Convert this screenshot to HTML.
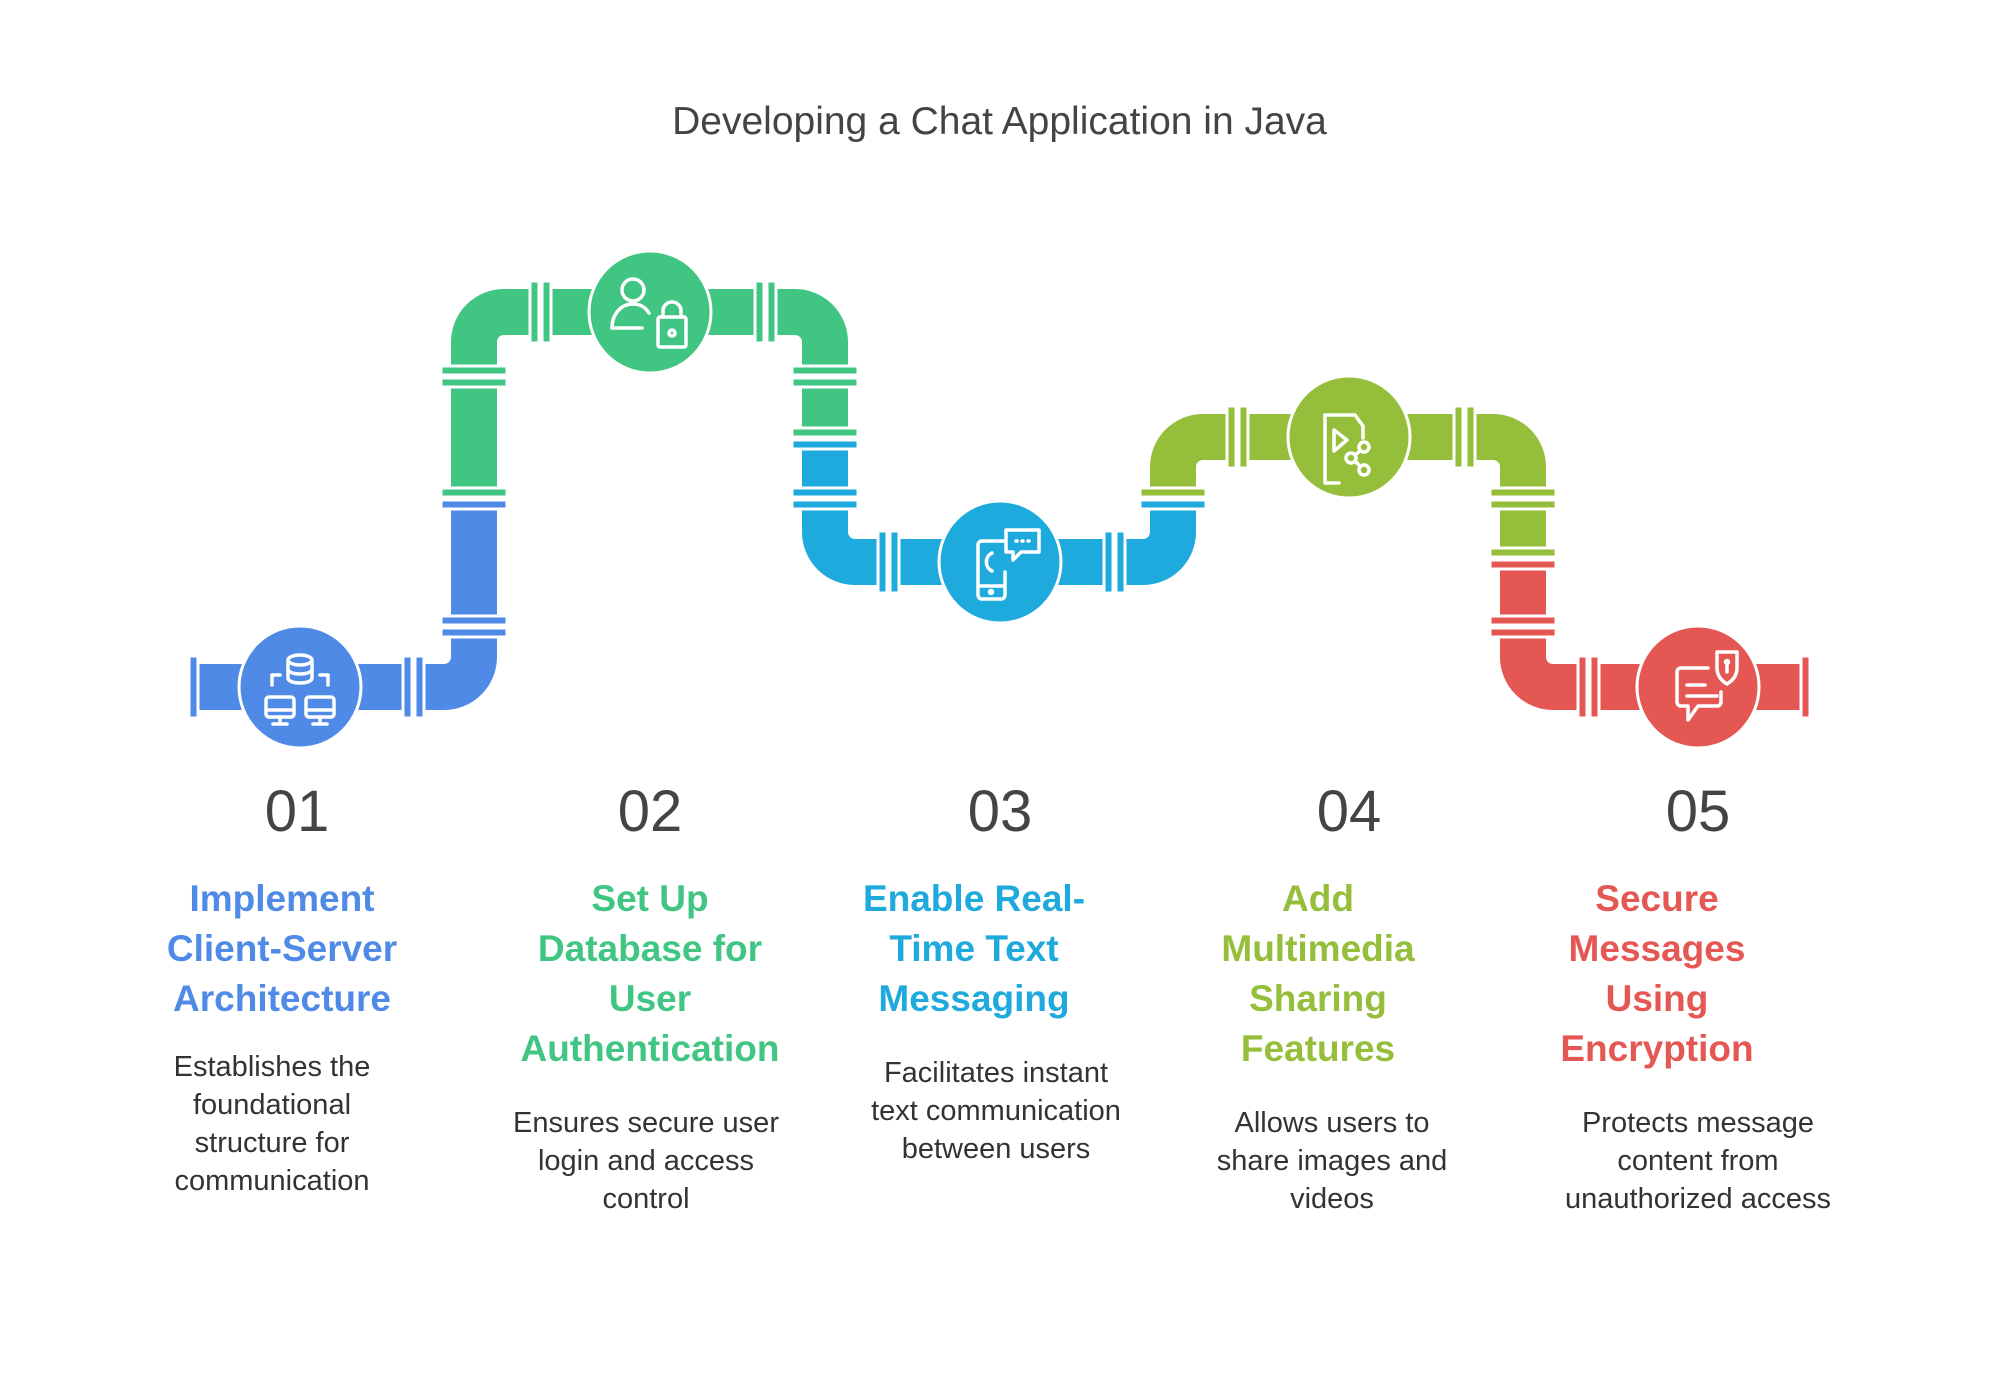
<!DOCTYPE html>
<html><head><meta charset="utf-8"><style>
body{margin:0;width:1999px;height:1375px;background:#fff;position:relative;overflow:hidden;font-family:"Liberation Sans",sans-serif}
.t{position:absolute;left:0;width:1999px;top:100px;text-align:center;font-size:39px;color:#444}
.n{position:absolute;width:300px;text-align:center;font-size:58px;color:#444;font-weight:300;top:778px}
.h{position:absolute;width:300px;text-align:center;font-size:37px;font-weight:bold;line-height:50px;white-space:nowrap}
.d{position:absolute;width:360px;text-align:center;font-size:29px;line-height:38px;color:#333;white-space:nowrap}
</style></head><body>
<div class="t">Developing a Chat Application in Java</div>
<svg width="1999" height="1375" style="position:absolute;left:0;top:0" fill="none">
<g stroke-width="46" stroke-linejoin="round">
<path d="M191 687 H444 A30 30 0 0 0 474 657 V497" stroke="#4F8AE6"/>
<path d="M474 497 V342 A30 30 0 0 1 504 312 H795 A30 30 0 0 1 825 342 V437" stroke="#40C583"/>
<path d="M825 437 V532 A30 30 0 0 0 855 562 H1143 A30 30 0 0 0 1173 532 V497" stroke="#1EAADC"/>
<path d="M1173 497 V467 A30 30 0 0 1 1203 437 H1493 A30 30 0 0 1 1523 467 V557" stroke="#95BE3A"/>
<path d="M1523 557 V657 A30 30 0 0 0 1553 687 H1808" stroke="#E55753"/>
</g>
<g stroke="#fff" stroke-width="3">
<rect x="441" y="366" width="66" height="9" fill="#40C583"/><rect x="441" y="378" width="66" height="9" fill="#40C583"/>
<rect x="441" y="488" width="66" height="9" fill="#40C583"/><rect x="441" y="500" width="66" height="9" fill="#4F8AE6"/>
<rect x="441" y="616" width="66" height="9" fill="#4F8AE6"/><rect x="441" y="628" width="66" height="9" fill="#4F8AE6"/>
<rect x="792" y="366" width="66" height="9" fill="#40C583"/><rect x="792" y="378" width="66" height="9" fill="#40C583"/>
<rect x="792" y="428" width="66" height="9" fill="#40C583"/><rect x="792" y="440" width="66" height="9" fill="#1EAADC"/>
<rect x="792" y="488" width="66" height="9" fill="#1EAADC"/><rect x="792" y="500" width="66" height="9" fill="#1EAADC"/>
<rect x="1140" y="488" width="66" height="9" fill="#95BE3A"/><rect x="1140" y="500" width="66" height="9" fill="#1EAADC"/>
<rect x="1490" y="488" width="66" height="9" fill="#95BE3A"/><rect x="1490" y="500" width="66" height="9" fill="#95BE3A"/>
<rect x="1490" y="548" width="66" height="9" fill="#95BE3A"/><rect x="1490" y="560" width="66" height="9" fill="#E55753"/>
<rect x="1490" y="616" width="66" height="9" fill="#E55753"/><rect x="1490" y="628" width="66" height="9" fill="#E55753"/>
<rect x="189" y="656" width="9" height="62" fill="#4F8AE6"/>
<rect x="403" y="656" width="9" height="62" fill="#4F8AE6"/><rect x="415" y="656" width="9" height="62" fill="#4F8AE6"/>
<rect x="530" y="281" width="9" height="62" fill="#40C583"/><rect x="542" y="281" width="9" height="62" fill="#40C583"/>
<rect x="755" y="281" width="9" height="62" fill="#40C583"/><rect x="767" y="281" width="9" height="62" fill="#40C583"/>
<rect x="878" y="531" width="9" height="62" fill="#1EAADC"/><rect x="890" y="531" width="9" height="62" fill="#1EAADC"/>
<rect x="1104" y="531" width="9" height="62" fill="#1EAADC"/><rect x="1116" y="531" width="9" height="62" fill="#1EAADC"/>
<rect x="1227" y="406" width="9" height="62" fill="#95BE3A"/><rect x="1239" y="406" width="9" height="62" fill="#95BE3A"/>
<rect x="1454" y="406" width="9" height="62" fill="#95BE3A"/><rect x="1466" y="406" width="9" height="62" fill="#95BE3A"/>
<rect x="1578" y="656" width="9" height="62" fill="#E55753"/><rect x="1590" y="656" width="9" height="62" fill="#E55753"/>
<rect x="1801" y="656" width="9" height="62" fill="#E55753"/>
<circle cx="300" cy="687" r="61" fill="#4F8AE6"/>
<circle cx="650" cy="312" r="61" fill="#40C583"/>
<circle cx="1000" cy="562" r="61" fill="#1EAADC"/>
<circle cx="1349" cy="437" r="61" fill="#95BE3A"/>
<circle cx="1698" cy="687" r="61" fill="#E55753"/>
</g>
<g stroke="#fff" stroke-width="3.5" stroke-linecap="round" stroke-linejoin="round">
<ellipse cx="300" cy="660" rx="12" ry="5"/><path d="M288 660v18c0 3 5 5 12 5s12-2 12-5v-18M288 669c0 3 5 5 12 5s12-2 12-5"/>
<path d="M272 685v-10h8M328 685v-10h-8"/>
<rect x="266" y="697" width="28" height="20" rx="3"/><rect x="306" y="697" width="28" height="20" rx="3"/>
<path d="M280 717v6M273 724h14M320 717v6M313 724h14M266 710h28M306 710h28"/>
<circle cx="633" cy="290" r="11"/><path d="M612 328c0-14 9-24 21-24c8 0 13 4 16 9M612 328h30"/>
<rect x="658" y="317" width="28" height="30" rx="2"/><path d="M663 317v-6a9 9 0 0 1 18 0v6"/><circle cx="672" cy="333" r="3"/>
<path d="M1005 541h-23a4 4 0 0 0-4 4v50a4 4 0 0 0 4 4h19a4 4 0 0 0 4-4v-23M978 586h27"/><circle cx="991" cy="592" r="1.5"/>
<path d="M992 553a10 10 0 0 0 0 18"/>
<path d="M1006 530h33v22h-18l-8 8v-8h-7z"/><path d="M1016 541h1M1022 541h1M1028 541h1"/>
<path d="M1355 415h-30v68h14M1355 415l8 11v12"/>
<path d="M1334 430v21l13-11z"/>
<circle cx="1351" cy="458" r="5"/><circle cx="1364" cy="447" r="5"/><circle cx="1364" cy="470" r="5"/><path d="M1355 455l5-4M1355 461l5 5"/>
<path d="M1708 668h-27a4 4 0 0 0-4 4v30a4 4 0 0 0 4 4h7v14l10-14h19a4 4 0 0 0 4-4v-10"/>
<path d="M1687 685h18M1687 696h30"/>
<path d="M1717 652h20v16c0 8-5 13-10 16c-5-3-10-8-10-16z"/><path d="M1727 664v8"/><circle cx="1727" cy="662" r="1.5"/>
</g>
</svg>
<div class="n" style="left:147px">01</div>
<div class="n" style="left:500px">02</div>
<div class="n" style="left:850px">03</div>
<div class="n" style="left:1199px">04</div>
<div class="n" style="left:1548px">05</div>
<div class="h" style="left:132px;top:874px;color:#4F8AE6">Implement<br>Client-Server<br>Architecture</div>
<div class="h" style="left:500px;top:874px;color:#40C583">Set Up<br>Database for<br>User<br>Authentication</div>
<div class="h" style="left:824px;top:874px;color:#1EAADC">Enable Real-<br>Time Text<br>Messaging</div>
<div class="h" style="left:1168px;top:874px;color:#95BE3A">Add<br>Multimedia<br>Sharing<br>Features</div>
<div class="h" style="left:1507px;top:874px;color:#E55753">Secure<br>Messages<br>Using<br>Encryption</div>
<div class="d" style="left:92px;top:1048px">Establishes the<br>foundational<br>structure for<br>communication</div>
<div class="d" style="left:466px;top:1104px">Ensures secure user<br>login and access<br>control</div>
<div class="d" style="left:816px;top:1054px">Facilitates instant<br>text communication<br>between users</div>
<div class="d" style="left:1152px;top:1104px">Allows users to<br>share images and<br>videos</div>
<div class="d" style="left:1518px;top:1104px">Protects message<br>content from<br>unauthorized access</div>
</body></html>
